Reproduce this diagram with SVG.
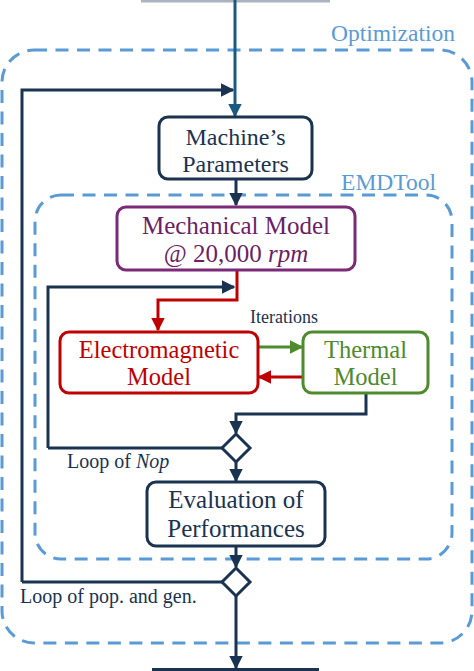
<svg xmlns="http://www.w3.org/2000/svg" width="474" height="671" viewBox="0 0 474 671">
<defs>
<style>
.grp{fill:none;stroke:#5b9bd5;stroke-width:3;stroke-dasharray:13 8.5}
.box{fill:#fff;stroke-width:3}
.t{font-family:"Liberation Serif","Times New Roman",serif;text-anchor:middle}
.ln{fill:none;stroke-width:3}
.navy{stroke:#1a3350}
.red{stroke:#c00000}
.green{stroke:#4e8a2e}
.lbl{font-family:"Liberation Serif","Times New Roman",serif;fill:#5b9bd5;font-size:23.5px}
</style>
<marker id="aN" viewBox="0 0 10 10" refX="9" refY="5" markerWidth="4.5" markerHeight="4.5" orient="auto" markerUnits="strokeWidth"><path d="M0,0 L10,5 L0,10 z" fill="#1a3350"/></marker>
<marker id="aB" viewBox="0 0 10 10" refX="9" refY="5" markerWidth="4.5" markerHeight="4.5" orient="auto" markerUnits="strokeWidth"><path d="M0,0 L10,5 L0,10 z" fill="#1b5a80"/></marker>
<marker id="aR" viewBox="0 0 10 10" refX="9" refY="5" markerWidth="4.5" markerHeight="4.5" orient="auto" markerUnits="strokeWidth"><path d="M0,0 L10,5 L0,10 z" fill="#c00000"/></marker>
<marker id="aG" viewBox="0 0 10 10" refX="9" refY="5" markerWidth="4.5" markerHeight="4.5" orient="auto" markerUnits="strokeWidth"><path d="M0,0 L10,5 L0,10 z" fill="#4e8a2e"/></marker>
</defs>
<rect width="474" height="671" fill="#fff"/>
<g id="groups">
<rect class="grp" x="2" y="50" width="470" height="593" rx="32"/>
<text class="lbl" x="455" y="41" text-anchor="end">Optimization</text>
<rect class="grp" x="35" y="195" width="417" height="364" rx="26"/>
<text class="lbl" x="436" y="190" text-anchor="end">EMDTool</text>
</g>
<g id="bars">
<rect x="141" y="0" width="189" height="2.5" fill="#a9b4bf"/>
<rect x="152" y="668" width="167" height="3" fill="#1a3350"/>
</g>
<g id="connectors">
<path class="ln" stroke="#1b5a80" d="M235,0 V116" marker-end="url(#aB)"/>
<path class="ln navy" d="M22,582 V90 H233" marker-end="url(#aN)"/>
<path class="ln navy" d="M236,179 V205" marker-end="url(#aN)"/>
<path class="ln red" d="M237,270 V300 H158 V330" marker-end="url(#aR)"/>
<path class="ln navy" d="M48,448 V287 H234" marker-end="url(#aN)"/>
<path class="ln green" d="M258,347 H302" marker-end="url(#aG)"/>
<path class="ln red" d="M303,377 H259" marker-end="url(#aR)"/>
<path class="ln navy" d="M366,393 V414 H236 V433" marker-end="url(#aN)"/>
<path class="ln navy" d="M48,448 H222"/>
<path class="ln navy" d="M236,462 V481" marker-end="url(#aN)"/>
<path class="ln navy" d="M236,546 V567" marker-end="url(#aN)"/>
<path class="ln navy" d="M22,582 H222"/>
<path class="ln navy" d="M236,596 V668" marker-end="url(#aN)"/>
</g>
<g id="machine">
<rect class="box navy" x="159" y="117" width="153" height="62" rx="9"/>
<text class="t" x="235.5" y="145" font-size="24" fill="#1a3350">Machine’s</text>
<text class="t" x="235.5" y="172" font-size="24" fill="#1a3350">Parameters</text>
</g>
<g id="mechanical">
<rect class="box" stroke="#7b2a78" x="117" y="207" width="238" height="63" rx="9"/>
<text class="t" x="236" y="234" font-size="25" fill="#6a1f66">Mechanical Model</text>
<text class="t" x="236" y="262" font-size="25" fill="#6a1f66">@ 20,000 <tspan font-style="italic">rpm</tspan></text>
</g>
<g id="iterations">
<text class="t" x="284" y="323" font-size="18" fill="#1a3350">Iterations</text>
</g>
<g id="electromagnetic">
<rect class="box red" x="60" y="332" width="198" height="61" rx="9"/>
<text class="t" x="159" y="358" font-size="24.5" fill="#c00000">Electromagnetic</text>
<text class="t" x="159" y="385" font-size="24.5" fill="#c00000">Model</text>
</g>
<g id="thermal">
<rect class="box green" x="303" y="332" width="125" height="61" rx="9"/>
<text class="t" x="365.5" y="358" font-size="24.5" fill="#4e8a2e">Thermal</text>
<text class="t" x="365.5" y="385" font-size="24.5" fill="#4e8a2e">Model</text>
</g>
<g id="decision1">
<path class="box navy" d="M236,434 L250,448 L236,462 L222,448 Z"/>
<text x="67" y="468" font-size="20" font-family="Liberation Serif,serif" fill="#1a3350">Loop of <tspan font-style="italic">Nop</tspan></text>
</g>
<g id="evaluation">
<rect class="box navy" x="147" y="482" width="178" height="64" rx="9"/>
<text class="t" x="236" y="508" font-size="25" fill="#1a3350">Evaluation of</text>
<text class="t" x="236" y="537" font-size="25" fill="#1a3350">Performances</text>
</g>
<g id="decision2">
<path class="box navy" d="M236,568 L250,582 L236,596 L222,582 Z"/>
<text x="20" y="603" font-size="20" font-family="Liberation Serif,serif" fill="#1a3350">Loop of pop. and gen.</text>
</g>
</svg>
